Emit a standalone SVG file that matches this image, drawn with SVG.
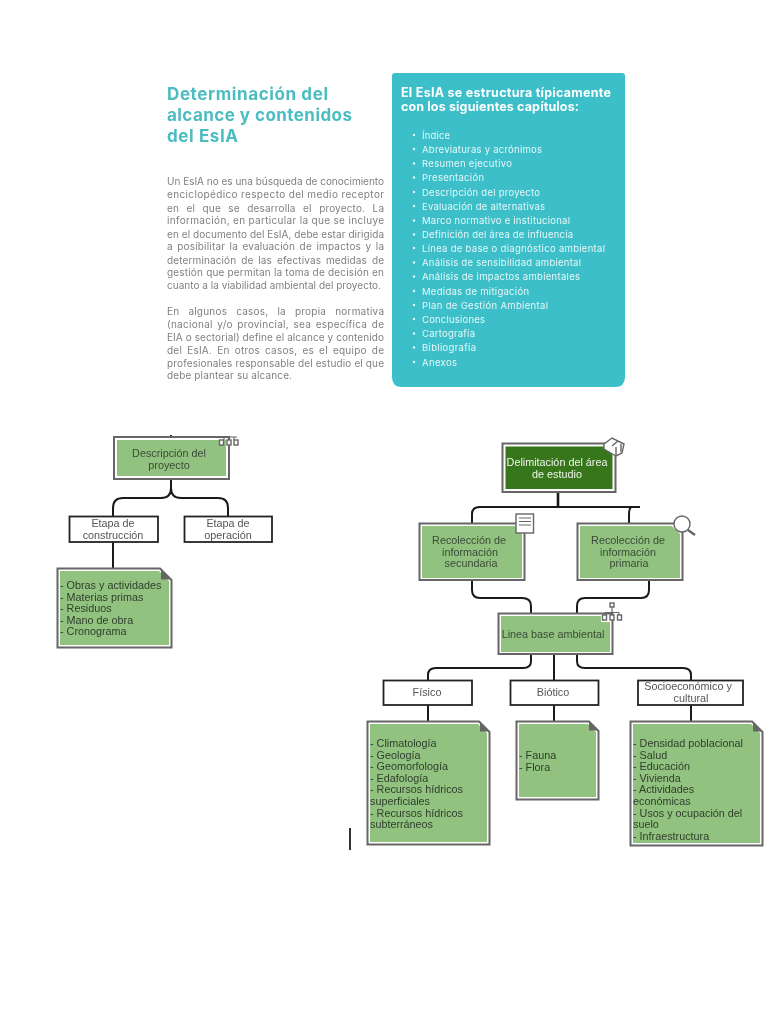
<svg xmlns="http://www.w3.org/2000/svg" width="768" height="1024" viewBox="0 0 768 1024">
<style>
.h{font:700 17px "Inter","Liberation Sans",sans-serif;fill:#4bbcc0}
.b{font:400 10px "Inter","Liberation Sans",sans-serif;fill:#808183}
.ph{font:700 12.5px "Inter","Liberation Sans",sans-serif;fill:#fff}
.li{font:400 9.5px "Inter","Liberation Sans",sans-serif;fill:#e6f7f8}
.d{fill:#e6f7f8}
.t{font:400 10.8px "Liberation Sans",Arial,sans-serif;fill:#3a4a38;text-anchor:middle}
.w{font:400 10.8px "Liberation Sans",Arial,sans-serif;fill:#555;text-anchor:middle}
.l{font:400 10.8px "Liberation Sans",Arial,sans-serif;fill:#2f3f2d}
.o{fill:#fff;stroke:#666;stroke-width:2}
.g{fill:#92c27f}
.k{fill:#fff;stroke:#222;stroke-width:1.8}
.c{fill:none;stroke:#1a1a1a;stroke-width:2}
.f{fill:#666}
.i{fill:#fff;stroke:#666;stroke-width:1.4}
.s{filter:url(#soft)}
</style>
<defs><filter id="soft" x="-5%" y="-5%" width="110%" height="110%"><feGaussianBlur stdDeviation="0.3"/></filter></defs>
<rect width="768" height="1024" fill="#fff"/>
<g id="texto" class="s">
<text class="h" x="167" y="100" textLength="161">Determinación del</text>
<text class="h" x="167" y="121" textLength="185">alcance y contenidos</text>
<text class="h" x="167" y="142" textLength="71">del EsIA</text>
<g class="b">
<text x="167" y="185" textLength="217">Un EsIA no es una búsqueda de conocimiento</text>
<text x="167" y="198" textLength="217">enciclopédico respecto del medio receptor</text>
<text x="167" y="211.500" textLength="217" word-spacing="4.5">en el que se desarrolla el proyecto. La</text>
<text x="167" y="224" textLength="217">información, en particular la que se incluye</text>
<text x="167" y="237.500" textLength="217">en el documento del EsIA, debe estar dirigida</text>
<text x="167" y="250" textLength="217" word-spacing="1.5">a posibilitar la evaluación de impactos y la</text>
<text x="167" y="263.500" textLength="217" word-spacing="2">determinación de las efectivas medidas de</text>
<text x="167" y="276" textLength="217">gestión que permitan la toma de decisión en</text>
<text x="167" y="289" textLength="214">cuanto a la viabilidad ambiental del proyecto.</text>
<text x="167" y="315" textLength="217" word-spacing="6">En algunos casos, la propia normativa</text>
<text x="167" y="327.500" textLength="217" word-spacing="1.5">(nacional y/o provincial, sea específica de</text>
<text x="167" y="341" textLength="217">EIA o sectorial) define el alcance y contenido</text>
<text x="167" y="353.500" textLength="217" word-spacing="2">del EsIA. En otros casos, es el equipo de</text>
<text x="167" y="366.500" textLength="217">profesionales responsable del estudio el que</text>
<text x="167" y="379" textLength="125">debe plantear su alcance.</text>
</g>
</g>
<g id="panel">
<path d="M395 73H622Q625 73 625 76V377Q625 387 615 387H402Q392 387 392 377V76Q392 73 395 73Z" fill="#3cbfc9"/>
<g class="s">
<text class="ph" x="401" y="97" textLength="210">El EsIA se estructura típicamente</text>
<text class="ph" x="401" y="111" textLength="178">con los siguientes capítulos:</text>
<g class="li">
<text x="422" y="138.500" textLength="28">Índice</text>
<text x="422" y="152.500" textLength="120">Abreviaturas y acrónimos</text>
<text x="422" y="167" textLength="90">Resumen ejecutivo</text>
<text x="422" y="181" textLength="62">Presentación</text>
<text x="422" y="195.500" textLength="118">Descripción del proyecto</text>
<text x="422" y="209.500" textLength="123">Evaluación de alternativas</text>
<text x="422" y="224" textLength="148">Marco normativo e institucional</text>
<text x="422" y="238" textLength="151">Definición del área de influencia</text>
<text x="422" y="251.500" textLength="183">Línea de base o diagnóstico ambiental</text>
<text x="422" y="266" textLength="159">Análisis de sensibilidad ambiental</text>
<text x="422" y="280" textLength="158">Análisis de impactos ambientales</text>
<text x="422" y="294.500" textLength="107">Medidas de mitigación</text>
<text x="422" y="308.500" textLength="126">Plan de Gestión Ambiental</text>
<text x="422" y="322.500" textLength="63">Conclusiones</text>
<text x="422" y="337" textLength="53">Cartografía</text>
<text x="422" y="351" textLength="54">Bibliografía</text>
<text x="422" y="365.500" textLength="35">Anexos</text>
</g>
<g class="d">
<circle cx="414" cy="135" r="1.200"/><circle cx="414" cy="149" r="1.200"/><circle cx="414" cy="163.500" r="1.200"/><circle cx="414" cy="177.500" r="1.200"/><circle cx="414" cy="192" r="1.200"/><circle cx="414" cy="206" r="1.200"/><circle cx="414" cy="220.500" r="1.200"/><circle cx="414" cy="234.500" r="1.200"/><circle cx="414" cy="248" r="1.200"/><circle cx="414" cy="262.500" r="1.200"/><circle cx="414" cy="276.500" r="1.200"/><circle cx="414" cy="291" r="1.200"/><circle cx="414" cy="305" r="1.200"/><circle cx="414" cy="319" r="1.200"/><circle cx="414" cy="333.500" r="1.200"/><circle cx="414" cy="347.500" r="1.200"/><circle cx="414" cy="362" r="1.200"/>
</g>
</g>
</g>
<g id="connectors">
<path class="c" d="M171 435V437"/>
<path class="c" d="M113 516V508Q113 498 123 498H161Q171 498 171 488V479"/>
<path class="c" d="M228 516V508Q228 498 218 498H181Q171 498 171 488"/>
<path class="c" d="M113 542V568"/>
<path class="c" d="M558 492V507" style="stroke-width:2.600"/>
<path class="c" d="M472 523V514Q472 507 480 507H632Q629 507 629 515V523M632 507H640"/>
<path class="c" d="M472 580V590Q472 598 480 598H522Q531 598 531 606V613"/>
<path class="c" d="M649 580V590Q649 598 641 598H585Q577 598 577 606V613"/>
<path class="c" d="M531 654V661Q531 668 523 668H436Q428 668 428 675V680"/>
<path class="c" d="M554 654V680"/>
<path class="c" d="M577 654V661Q577 668 585 668H683Q691 668 691 675V680"/>
<path class="c" d="M428 705V721"/>
<path class="c" d="M554 705V721"/>
<path class="c" d="M691 705V721"/>
</g>
<g id="descripcion" class="s">
<rect class="o" x="114" y="437" width="115" height="42"/><rect class="g" x="117" y="440" width="109" height="36"/>
<text class="t" x="169" y="457">Descripción del</text><text class="t" x="169" y="469">proyecto</text>
<path d="M224 437V440M229 437V440M234 437V440M221 437H237" fill="none" stroke="#666" stroke-width="1.200"/>
<rect class="i" x="219.500" y="440" width="4" height="5"/><rect class="i" x="227" y="440" width="4" height="5"/><rect class="i" x="234" y="440" width="4" height="5"/>
</g>
<g id="construccion" class="s">
<rect class="k" x="69.500" y="516.500" width="88.500" height="25.500"/>
<text class="w" x="113" y="527">Etapa de</text><text class="w" x="113" y="539">construcción</text>
</g>
<g id="operacion" class="s">
<rect class="k" x="184.500" y="516.500" width="87.500" height="25.500"/>
<text class="w" x="228" y="527">Etapa de</text><text class="w" x="228" y="539">operación</text>
</g>
<g id="nota-construccion" class="s">
<path class="o" d="M57.500 568.500H160L171.500 580V647.500H57.500Z"/><path class="g" d="M60 571H159L169 581V645H60Z"/>
<path class="f" d="M161 568.500L171.500 579.500H161Z"/>
<g class="l"><text x="60" y="589">- Obras y actividades</text><text x="60" y="601">- Materias primas</text><text x="60" y="612">- Residuos</text><text x="60" y="624">- Mano de obra</text><text x="60" y="635">- Cronograma</text></g>
</g>
<g id="delimitacion" class="s">
<rect class="o" x="502.500" y="443.500" width="113" height="48.500"/>
<path d="M505.500 446.500H604L612.500 455V489H505.500Z" fill="#38761d"/>
<text class="t" x="557" y="466" style="fill:#eef5ea">Delimitación del área</text><text class="t" x="557" y="478" style="fill:#eef5ea">de estudio</text>
<path class="i" d="M604 444L612 438L624 444L622 453L616 456L604 449Z"/><path d="M612 446L618 441M616 447V455M621 444V452" fill="none" stroke="#666" stroke-width="1.400"/>
</g>
<g id="secundaria" class="s">
<rect class="o" x="419.500" y="523.500" width="105" height="56.500"/><rect class="g" x="422" y="526" width="100" height="52"/>
<text class="t" x="469" y="544">Recolección de</text><text class="t" x="470" y="556">información</text><text class="t" x="471" y="567">secundaria</text>
<rect class="i" x="516" y="514" width="17.500" height="19"/><path d="M519 518H531M519 521.500H531M519 525H531" stroke="#666" stroke-width="1.200"/>
</g>
<g id="primaria" class="s">
<rect class="o" x="577.500" y="523.500" width="105" height="56.500"/><path class="g" d="M580 526H672L680 534V578H580Z"/>
<text class="t" x="628" y="544">Recolección de</text><text class="t" x="628" y="556">información</text><text class="t" x="629" y="567">primaria</text>
<circle class="i" cx="682" cy="524" r="8"/><path d="M688 530L695 535" stroke="#666" stroke-width="2.400"/>
</g>
<g id="linea-base" class="s">
<rect class="o" x="498.500" y="613.500" width="114" height="40.500"/><path class="g" d="M501 616H601V622H610V652H501Z"/>
<text class="t" x="553" y="638">Linea base ambiental</text>
<path d="M612 607V612M605 612.500H619M605 612.500V615M612 612.500V615M619 612.500V615" fill="none" stroke="#666" stroke-width="1.200"/>
<rect class="i" x="610" y="603" width="4" height="4"/><rect class="i" x="602.500" y="615" width="4" height="5"/><rect class="i" x="610" y="615" width="4" height="5"/><rect class="i" x="617.500" y="615" width="4" height="5"/>
</g>
<g id="fisico" class="s"><rect class="k" x="383.500" y="680.500" width="88.500" height="24.500"/><text class="w" x="427" y="696">Físico</text></g>
<g id="biotico" class="s"><rect class="k" x="510.500" y="680.500" width="88" height="24.500"/><text class="w" x="553" y="696">Biótico</text></g>
<g id="socio" class="s"><rect class="k" x="638" y="680.500" width="105" height="24.500"/><text class="w" x="688" y="690">Socioeconómico y</text><text class="w" x="691" y="702">cultural</text></g>
<g id="nota-fisico" class="s">
<path class="o" d="M367.500 721.500H479L489.500 732V844.500H367.500Z"/><path class="g" d="M370 724H478L487 733V842H370Z"/>
<path class="f" d="M480 721.500L489.500 731.500H480Z"/>
<g class="l"><text x="370" y="747">- Climatología</text><text x="370" y="758.500">- Geología</text><text x="370" y="770">- Geomorfología</text><text x="370" y="781.500">- Edafología</text><text x="370" y="793">- Recursos hídricos</text><text x="370" y="805">superficiales</text><text x="370" y="816.500">- Recursos hídricos</text><text x="370" y="828">subterráneos</text></g>
</g>
<g id="nota-biotico" class="s">
<path class="o" d="M516.500 721.500H589L598.500 731V799.500H516.500Z"/><path class="g" d="M519 724H588L596 732V797H519Z"/>
<path class="f" d="M589 721.500L598.500 730.500H589Z"/>
<g class="l"><text x="519" y="759">- Fauna</text><text x="519" y="771">- Flora</text></g>
</g>
<g id="nota-socio" class="s">
<path class="o" d="M630.500 721.500H752L762.500 732V845.500H630.500Z"/><path class="g" d="M633 724H751L760 733V843H633Z"/>
<path class="f" d="M753 721.500L762.500 731.500H753Z"/>
<g class="l"><text x="633" y="747">- Densidad poblacional</text><text x="633" y="758.500">- Salud</text><text x="633" y="770">- Educación</text><text x="633" y="781.500">- Vivienda</text><text x="633" y="793">- Actividades</text><text x="633" y="805">económicas</text><text x="633" y="816.500">- Usos y ocupación del</text><text x="633" y="828">suelo</text><text x="633" y="839.500">- Infraestructura</text></g>
</g>
<rect id="barra" x="349" y="828" width="2" height="22" fill="#333"/>
</svg>
